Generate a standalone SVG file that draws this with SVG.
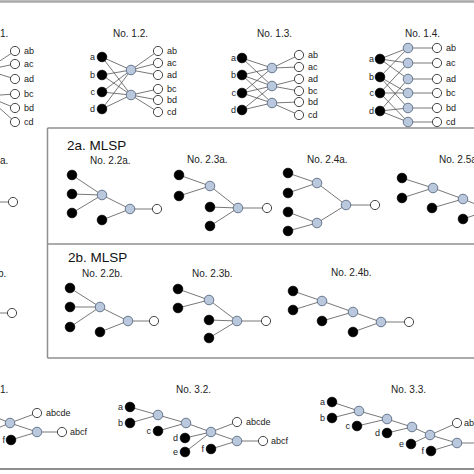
<svg xmlns="http://www.w3.org/2000/svg" width="474" height="474" viewBox="0 0 474 474">
<style>
.k{fill:#000;stroke:#000;stroke-width:0.8}
.b{fill:#b9c8dc;stroke:#5b6b82;stroke-width:0.9}
.w{fill:#fff;stroke:#333;stroke-width:0.9}
.e line,.e polyline{stroke:#555;stroke-width:0.8;fill:none}
.f{stroke:#8f8f8f;stroke-width:1.5;fill:none}
text{font-family:"Liberation Sans",Arial,sans-serif;fill:#222}
.t{font-size:10px}
.l{font-size:9px}
.le{font-size:9px;text-anchor:end}
.h{font-size:13.5px;fill:#111}
</style>
<rect width="474" height="474" fill="#fff"/>
<g id="frames">
<line class="f" x1="0" y1="1.5" x2="474" y2="1.5" style="stroke-width:2.5;stroke:#a8a8a8"/>
<line class="f" x1="47.5" y1="128" x2="474" y2="128"/>
<line class="f" x1="47.5" y1="128" x2="47.5" y2="358"/>
<line class="f" x1="47.5" y1="244" x2="474" y2="244"/>
<line class="f" x1="47.5" y1="358" x2="474" y2="358"/>
<line class="f" x1="0" y1="469" x2="474" y2="469" style="stroke-width:2"/>
</g>
<g id="titles">
<text class="t" x="0" y="37">1.</text>
<text class="t" x="113" y="37">No. 1.2.</text>
<text class="t" x="257" y="37">No. 1.3.</text>
<text class="t" x="405" y="37">No. 1.4.</text>
<text class="h" x="67" y="150">2a. MLSP</text>
<text class="t" x="0" y="164">a.</text>
<text class="t" x="90" y="164">No. 2.2a.</text>
<text class="t" x="187" y="163">No. 2.3a.</text>
<text class="t" x="307" y="163">No. 2.4a.</text>
<text class="t" x="439" y="163">No. 2.5a.</text>
<text class="h" x="68" y="262">2b. MLSP</text>
<text class="t" x="-2" y="277">b.</text>
<text class="t" x="82" y="277">No. 2.2b.</text>
<text class="t" x="192" y="277">No. 2.3b.</text>
<text class="t" x="331" y="276">No. 2.4b.</text>
<text class="t" x="0" y="393">1.</text>
<text class="t" x="176" y="393">No. 3.2.</text>
<text class="t" x="391" y="393">No. 3.3.</text>
</g>
<g id="connectors" class="e">
<line x1="-14" y1="70" x2="15" y2="51"/><line x1="-14" y1="70" x2="15" y2="64"/><line x1="-14" y1="70" x2="15" y2="79"/>
<line x1="-14" y1="96" x2="15" y2="94"/><line x1="-14" y1="96" x2="15" y2="108"/><line x1="-14" y1="96" x2="15" y2="122"/>
<line x1="102" y1="57" x2="131" y2="70"/><line x1="102" y1="57" x2="131" y2="95"/>
<line x1="102" y1="75" x2="131" y2="70"/><line x1="102" y1="75" x2="131" y2="95"/>
<line x1="102" y1="92" x2="131" y2="70"/><line x1="102" y1="92" x2="131" y2="95"/>
<line x1="102" y1="109" x2="131" y2="70"/><line x1="102" y1="109" x2="131" y2="95"/>
<line x1="131" y1="70" x2="158" y2="51"/><line x1="131" y1="70" x2="158" y2="63"/><line x1="131" y1="70" x2="158" y2="75"/>
<line x1="131" y1="95" x2="158" y2="89"/><line x1="131" y1="95" x2="158" y2="100"/><line x1="131" y1="95" x2="158" y2="112"/>
<line x1="242" y1="58" x2="272" y2="68"/><line x1="242" y1="58" x2="272" y2="86"/>
<line x1="242" y1="75" x2="272" y2="68"/><line x1="242" y1="75" x2="272" y2="86"/><line x1="242" y1="75" x2="272" y2="103"/>
<line x1="242" y1="93" x2="272" y2="68"/><line x1="242" y1="93" x2="272" y2="86"/><line x1="242" y1="93" x2="272" y2="103"/>
<line x1="242" y1="110" x2="272" y2="86"/><line x1="242" y1="110" x2="272" y2="103"/>
<line x1="272" y1="68" x2="299" y2="55"/><line x1="272" y1="68" x2="299" y2="67"/>
<line x1="272" y1="86" x2="299" y2="79"/><line x1="272" y1="86" x2="299" y2="91"/>
<line x1="272" y1="103" x2="299" y2="102"/><line x1="272" y1="103" x2="299" y2="115"/>
<line x1="380" y1="59" x2="408" y2="48"/><line x1="380" y1="77" x2="408" y2="48"/>
<line x1="380" y1="59" x2="408" y2="63"/><line x1="380" y1="93" x2="408" y2="63"/>
<line x1="380" y1="59" x2="408" y2="79"/><line x1="380" y1="111" x2="408" y2="79"/>
<line x1="380" y1="77" x2="408" y2="93"/><line x1="380" y1="93" x2="408" y2="93"/>
<line x1="380" y1="77" x2="408" y2="108"/><line x1="380" y1="111" x2="408" y2="108"/>
<line x1="380" y1="93" x2="408" y2="122"/><line x1="380" y1="111" x2="408" y2="122"/>
<line x1="408" y1="48" x2="437" y2="48"/><line x1="408" y1="63" x2="437" y2="63"/><line x1="408" y1="79" x2="437" y2="79"/>
<line x1="408" y1="93" x2="437" y2="93"/><line x1="408" y1="108" x2="437" y2="108"/><line x1="408" y1="122" x2="437" y2="122"/>
<line x1="0" y1="202" x2="13" y2="202"/>
<line x1="72" y1="175" x2="102" y2="195"/><line x1="72" y1="194" x2="102" y2="195"/><line x1="72" y1="213" x2="102" y2="195"/>
<line x1="102" y1="195" x2="130" y2="209"/><line x1="102" y1="220" x2="130" y2="209"/><line x1="130" y1="209" x2="157" y2="209"/>
<line x1="179" y1="175" x2="210" y2="186"/><line x1="179" y1="196" x2="210" y2="186"/>
<line x1="210" y1="186" x2="238" y2="208"/><line x1="210" y1="207" x2="238" y2="208"/><line x1="210" y1="226" x2="238" y2="208"/>
<line x1="238" y1="208" x2="267" y2="208"/>
<line x1="288" y1="173" x2="317" y2="183"/><line x1="288" y1="193" x2="317" y2="183"/>
<line x1="288" y1="212" x2="317" y2="223"/><line x1="288" y1="231" x2="317" y2="223"/>
<line x1="317" y1="183" x2="346" y2="205"/><line x1="317" y1="223" x2="346" y2="205"/><line x1="346" y1="205" x2="375" y2="205"/>
<line x1="402" y1="178" x2="433" y2="188"/><line x1="402" y1="198" x2="433" y2="188"/>
<line x1="433" y1="188" x2="463" y2="199"/><line x1="432" y1="208" x2="463" y2="199"/>
<line x1="463" y1="199" x2="490" y2="210"/><line x1="463" y1="219" x2="490" y2="210"/>
<line x1="0" y1="313" x2="12" y2="313"/>
<line x1="70" y1="288" x2="100" y2="307"/><line x1="70" y1="307" x2="100" y2="307"/><line x1="70" y1="327" x2="100" y2="307"/>
<line x1="100" y1="307" x2="128" y2="321"/><line x1="100" y1="332" x2="128" y2="321"/><line x1="128" y1="321" x2="154" y2="321"/>
<line x1="178" y1="289" x2="209" y2="300"/><line x1="178" y1="308" x2="209" y2="300"/>
<line x1="209" y1="300" x2="237" y2="321"/><line x1="209" y1="320" x2="237" y2="321"/><line x1="209" y1="338" x2="237" y2="321"/>
<line x1="237" y1="321" x2="266" y2="321"/>
<line x1="293" y1="291" x2="322" y2="301"/><line x1="293" y1="310" x2="322" y2="301"/>
<line x1="322" y1="301" x2="353" y2="312"/><line x1="322" y1="321" x2="353" y2="312"/>
<line x1="353" y1="312" x2="381" y2="322"/><line x1="353" y1="332" x2="381" y2="322"/>
<line x1="381" y1="322" x2="409" y2="322"/>
<line x1="-12" y1="414" x2="10" y2="423"/><line x1="-12" y1="432" x2="10" y2="423"/>
<line x1="10" y1="423" x2="37" y2="413"/><line x1="10" y1="423" x2="37" y2="432"/>
<line x1="11" y1="440" x2="37" y2="432"/><line x1="37" y1="432" x2="62" y2="432"/>
<line x1="130" y1="407" x2="158" y2="415"/><line x1="130" y1="423" x2="158" y2="415"/>
<line x1="158" y1="415" x2="186" y2="423"/><line x1="158" y1="431" x2="186" y2="423"/>
<line x1="186" y1="423" x2="211" y2="432"/><line x1="185" y1="438" x2="211" y2="432"/><line x1="185" y1="452" x2="211" y2="432"/>
<line x1="211" y1="432" x2="237" y2="422"/><line x1="211" y1="432" x2="237" y2="441"/>
<line x1="211" y1="449" x2="237" y2="441"/><line x1="237" y1="441" x2="263" y2="441"/>
<line x1="332" y1="402" x2="359" y2="411"/><line x1="332" y1="418" x2="359" y2="411"/>
<line x1="359" y1="411" x2="387" y2="419"/><line x1="357" y1="426" x2="387" y2="419"/>
<line x1="387" y1="419" x2="412" y2="427"/><line x1="387" y1="433" x2="412" y2="427"/>
<line x1="412" y1="427" x2="430" y2="435"/><line x1="411" y1="444" x2="430" y2="435"/>
<line x1="430" y1="435" x2="457" y2="423"/><line x1="430" y1="435" x2="457" y2="443"/>
<line x1="431" y1="451" x2="457" y2="443"/><line x1="457" y1="443" x2="480" y2="443"/>
</g>
<g id="d11">
<g id="n11ab"><circle class="w" cx="15" cy="51" r="4.6"/><text class="l" x="24" y="54">ab</text></g>
<g id="n11ac"><circle class="w" cx="15" cy="64" r="4.6"/><text class="l" x="24" y="67">ac</text></g>
<g id="n11ad"><circle class="w" cx="15" cy="79" r="4.6"/><text class="l" x="24" y="82">ad</text></g>
<g id="n11bc"><circle class="w" cx="15" cy="94" r="4.6"/><text class="l" x="24" y="97">bc</text></g>
<g id="n11bd"><circle class="w" cx="15" cy="108" r="4.6"/><text class="l" x="24" y="111">bd</text></g>
<g id="n11cd"><circle class="w" cx="15" cy="122" r="4.6"/><text class="l" x="24" y="125">cd</text></g>
</g>
<g id="d12">
<g id="n12a"><circle class="k" cx="102" cy="57" r="4.8"/><text class="le" x="95" y="60">a</text></g>
<g id="n12b"><circle class="k" cx="102" cy="75" r="4.8"/><text class="le" x="95" y="78">b</text></g>
<g id="n12c"><circle class="k" cx="102" cy="92" r="4.8"/><text class="le" x="95" y="95">c</text></g>
<g id="n12d"><circle class="k" cx="102" cy="109" r="4.8"/><text class="le" x="95" y="112">d</text></g>
<g id="n12h1"><circle class="b" cx="131" cy="70" r="4.8"/></g>
<g id="n12h2"><circle class="b" cx="131" cy="95" r="4.8"/></g>
<g id="n12ab"><circle class="w" cx="158" cy="51" r="4.6"/><text class="l" x="167" y="54">ab</text></g>
<g id="n12ac"><circle class="w" cx="158" cy="63" r="4.6"/><text class="l" x="167" y="66">ac</text></g>
<g id="n12ad"><circle class="w" cx="158" cy="75" r="4.6"/><text class="l" x="167" y="78">ad</text></g>
<g id="n12bc"><circle class="w" cx="158" cy="89" r="4.6"/><text class="l" x="167" y="92">bc</text></g>
<g id="n12bd"><circle class="w" cx="158" cy="100" r="4.6"/><text class="l" x="167" y="103">bd</text></g>
<g id="n12cd"><circle class="w" cx="158" cy="112" r="4.6"/><text class="l" x="167" y="115">cd</text></g>
</g>
<g id="d13">
<g id="n13a"><circle class="k" cx="242" cy="58" r="4.8"/><text class="le" x="236" y="61">a</text></g>
<g id="n13b"><circle class="k" cx="242" cy="75" r="4.8"/><text class="le" x="236" y="78">b</text></g>
<g id="n13c"><circle class="k" cx="242" cy="93" r="4.8"/><text class="le" x="236" y="96">c</text></g>
<g id="n13d"><circle class="k" cx="242" cy="110" r="4.8"/><text class="le" x="236" y="113">d</text></g>
<g id="n13h1"><circle class="b" cx="272" cy="68" r="4.8"/></g>
<g id="n13h2"><circle class="b" cx="272" cy="86" r="4.8"/></g>
<g id="n13h3"><circle class="b" cx="272" cy="103" r="4.8"/></g>
<g id="n13ab"><circle class="w" cx="299" cy="55" r="4.6"/><text class="l" x="308" y="58">ab</text></g>
<g id="n13ac"><circle class="w" cx="299" cy="67" r="4.6"/><text class="l" x="308" y="70">ac</text></g>
<g id="n13ad"><circle class="w" cx="299" cy="79" r="4.6"/><text class="l" x="308" y="82">ad</text></g>
<g id="n13bc"><circle class="w" cx="299" cy="91" r="4.6"/><text class="l" x="308" y="94">bc</text></g>
<g id="n13bd"><circle class="w" cx="299" cy="102" r="4.6"/><text class="l" x="308" y="105">bd</text></g>
<g id="n13cd"><circle class="w" cx="299" cy="115" r="4.6"/><text class="l" x="308" y="118">cd</text></g>
</g>
<g id="d14">
<g id="n14a"><circle class="k" cx="380" cy="59" r="4.8"/><text class="le" x="374" y="62">a</text></g>
<g id="n14b"><circle class="k" cx="380" cy="77" r="4.8"/><text class="le" x="374" y="80">b</text></g>
<g id="n14c"><circle class="k" cx="380" cy="93" r="4.8"/><text class="le" x="374" y="96">c</text></g>
<g id="n14d"><circle class="k" cx="380" cy="111" r="4.8"/><text class="le" x="374" y="114">d</text></g>
<g id="n14h1"><circle class="b" cx="408" cy="48" r="4.8"/></g>
<g id="n14h2"><circle class="b" cx="408" cy="63" r="4.8"/></g>
<g id="n14h3"><circle class="b" cx="408" cy="79" r="4.8"/></g>
<g id="n14h4"><circle class="b" cx="408" cy="93" r="4.8"/></g>
<g id="n14h5"><circle class="b" cx="408" cy="108" r="4.8"/></g>
<g id="n14h6"><circle class="b" cx="408" cy="122" r="4.8"/></g>
<g id="n14ab"><circle class="w" cx="437" cy="48" r="4.6"/><text class="l" x="446" y="51">ab</text></g>
<g id="n14ac"><circle class="w" cx="437" cy="63" r="4.6"/><text class="l" x="446" y="66">ac</text></g>
<g id="n14ad"><circle class="w" cx="437" cy="79" r="4.6"/><text class="l" x="446" y="82">ad</text></g>
<g id="n14bc"><circle class="w" cx="437" cy="93" r="4.6"/><text class="l" x="446" y="96">bc</text></g>
<g id="n14bd"><circle class="w" cx="437" cy="108" r="4.6"/><text class="l" x="446" y="111">bd</text></g>
<g id="n14cd"><circle class="w" cx="437" cy="122" r="4.6"/><text class="l" x="446" y="125">cd</text></g>
</g>
<g id="d21a"><g id="n21a_o"><circle class="w" cx="13" cy="202" r="4.6"/></g></g>
<g id="d22a">
<g id="n22a_1"><circle class="k" cx="72" cy="175" r="4.8"/></g>
<g id="n22a_2"><circle class="k" cx="72" cy="194" r="4.8"/></g>
<g id="n22a_3"><circle class="k" cx="72" cy="213" r="4.8"/></g>
<g id="n22a_4"><circle class="k" cx="102" cy="220" r="4.8"/></g>
<g id="n22a_h1"><circle class="b" cx="102" cy="195" r="4.8"/></g>
<g id="n22a_h2"><circle class="b" cx="130" cy="209" r="4.8"/></g>
<g id="n22a_o"><circle class="w" cx="157" cy="209" r="4.6"/></g>
</g>
<g id="d23a">
<g id="n23a_1"><circle class="k" cx="179" cy="175" r="4.8"/></g>
<g id="n23a_2"><circle class="k" cx="179" cy="196" r="4.8"/></g>
<g id="n23a_3"><circle class="k" cx="210" cy="207" r="4.8"/></g>
<g id="n23a_4"><circle class="k" cx="210" cy="226" r="4.8"/></g>
<g id="n23a_h1"><circle class="b" cx="210" cy="186" r="4.8"/></g>
<g id="n23a_h2"><circle class="b" cx="238" cy="208" r="4.8"/></g>
<g id="n23a_o"><circle class="w" cx="267" cy="208" r="4.6"/></g>
</g>
<g id="d24a">
<g id="n24a_1"><circle class="k" cx="288" cy="173" r="4.8"/></g>
<g id="n24a_2"><circle class="k" cx="288" cy="193" r="4.8"/></g>
<g id="n24a_3"><circle class="k" cx="288" cy="212" r="4.8"/></g>
<g id="n24a_4"><circle class="k" cx="288" cy="231" r="4.8"/></g>
<g id="n24a_h1"><circle class="b" cx="317" cy="183" r="4.8"/></g>
<g id="n24a_h2"><circle class="b" cx="317" cy="223" r="4.8"/></g>
<g id="n24a_h3"><circle class="b" cx="346" cy="205" r="4.8"/></g>
<g id="n24a_o"><circle class="w" cx="375" cy="205" r="4.6"/></g>
</g>
<g id="d25a">
<g id="n25a_1"><circle class="k" cx="402" cy="178" r="4.8"/></g>
<g id="n25a_2"><circle class="k" cx="402" cy="198" r="4.8"/></g>
<g id="n25a_3"><circle class="k" cx="432" cy="208" r="4.8"/></g>
<g id="n25a_4"><circle class="k" cx="463" cy="219" r="4.8"/></g>
<g id="n25a_h1"><circle class="b" cx="433" cy="188" r="4.8"/></g>
<g id="n25a_h2"><circle class="b" cx="463" cy="199" r="4.8"/></g>
</g>
<g id="d21b"><g id="n21b_o"><circle class="w" cx="12" cy="313" r="4.6"/></g></g>
<g id="d22b">
<g id="n22b_1"><circle class="k" cx="70" cy="288" r="4.8"/></g>
<g id="n22b_2"><circle class="k" cx="70" cy="307" r="4.8"/></g>
<g id="n22b_3"><circle class="k" cx="70" cy="327" r="4.8"/></g>
<g id="n22b_4"><circle class="k" cx="100" cy="332" r="4.8"/></g>
<g id="n22b_h1"><circle class="b" cx="100" cy="307" r="4.8"/></g>
<g id="n22b_h2"><circle class="b" cx="128" cy="321" r="4.8"/></g>
<g id="n22b_o"><circle class="w" cx="154" cy="321" r="4.6"/></g>
</g>
<g id="d23b">
<g id="n23b_1"><circle class="k" cx="178" cy="289" r="4.8"/></g>
<g id="n23b_2"><circle class="k" cx="178" cy="308" r="4.8"/></g>
<g id="n23b_3"><circle class="k" cx="209" cy="320" r="4.8"/></g>
<g id="n23b_4"><circle class="k" cx="209" cy="338" r="4.8"/></g>
<g id="n23b_h1"><circle class="b" cx="209" cy="300" r="4.8"/></g>
<g id="n23b_h2"><circle class="b" cx="237" cy="321" r="4.8"/></g>
<g id="n23b_o"><circle class="w" cx="266" cy="321" r="4.6"/></g>
</g>
<g id="d24b">
<g id="n24b_1"><circle class="k" cx="293" cy="291" r="4.8"/></g>
<g id="n24b_2"><circle class="k" cx="293" cy="310" r="4.8"/></g>
<g id="n24b_3"><circle class="k" cx="322" cy="321" r="4.8"/></g>
<g id="n24b_4"><circle class="k" cx="353" cy="332" r="4.8"/></g>
<g id="n24b_h1"><circle class="b" cx="322" cy="301" r="4.8"/></g>
<g id="n24b_h2"><circle class="b" cx="353" cy="312" r="4.8"/></g>
<g id="n24b_h3"><circle class="b" cx="381" cy="322" r="4.8"/></g>
<g id="n24b_o"><circle class="w" cx="409" cy="322" r="4.6"/></g>
</g>
<g id="d31">
<g id="n31_h1"><circle class="b" cx="10" cy="423" r="4.8"/></g>
<g id="n31_f"><circle class="k" cx="11" cy="440" r="4.8"/><text class="le" x="5" y="443">f</text></g>
<g id="n31_h2"><circle class="b" cx="37" cy="432" r="4.8"/></g>
<g id="n31_o1"><circle class="w" cx="37" cy="413" r="4.6"/><text class="l" x="46" y="416">abcde</text></g>
<g id="n31_o2"><circle class="w" cx="62" cy="432" r="4.6"/><text class="l" x="70" y="435">abcf</text></g>
</g>
<g id="d32">
<g id="n32_a"><circle class="k" cx="130" cy="407" r="4.8"/><text class="le" x="123" y="410">a</text></g>
<g id="n32_b"><circle class="k" cx="130" cy="423" r="4.8"/><text class="le" x="123" y="426">b</text></g>
<g id="n32_c"><circle class="k" cx="158" cy="431" r="4.8"/><text class="le" x="151" y="434">c</text></g>
<g id="n32_d"><circle class="k" cx="185" cy="438" r="4.8"/><text class="le" x="178" y="441">d</text></g>
<g id="n32_e"><circle class="k" cx="185" cy="452" r="4.8"/><text class="le" x="178" y="455">e</text></g>
<g id="n32_f"><circle class="k" cx="211" cy="449" r="4.8"/><text class="le" x="204" y="452">f</text></g>
<g id="n32_h1"><circle class="b" cx="158" cy="415" r="4.8"/></g>
<g id="n32_h2"><circle class="b" cx="186" cy="423" r="4.8"/></g>
<g id="n32_h3"><circle class="b" cx="211" cy="432" r="4.8"/></g>
<g id="n32_h4"><circle class="b" cx="237" cy="441" r="4.8"/></g>
<g id="n32_o1"><circle class="w" cx="237" cy="422" r="4.6"/><text class="l" x="246" y="425">abcde</text></g>
<g id="n32_o2"><circle class="w" cx="263" cy="441" r="4.6"/><text class="l" x="271" y="444">abcf</text></g>
</g>
<g id="d33">
<g id="n33_a"><circle class="k" cx="332" cy="402" r="4.8"/><text class="le" x="325" y="405">a</text></g>
<g id="n33_b"><circle class="k" cx="332" cy="418" r="4.8"/><text class="le" x="325" y="421">b</text></g>
<g id="n33_c"><circle class="k" cx="357" cy="426" r="4.8"/><text class="le" x="350" y="429">c</text></g>
<g id="n33_d"><circle class="k" cx="387" cy="433" r="4.8"/><text class="le" x="380" y="436">d</text></g>
<g id="n33_e"><circle class="k" cx="411" cy="444" r="4.8"/><text class="le" x="404" y="447">e</text></g>
<g id="n33_f"><circle class="k" cx="431" cy="451" r="4.8"/><text class="le" x="424" y="454">f</text></g>
<g id="n33_h1"><circle class="b" cx="359" cy="411" r="4.8"/></g>
<g id="n33_h2"><circle class="b" cx="387" cy="419" r="4.8"/></g>
<g id="n33_h3"><circle class="b" cx="412" cy="427" r="4.8"/></g>
<g id="n33_h4"><circle class="b" cx="430" cy="435" r="4.8"/></g>
<g id="n33_h5"><circle class="b" cx="457" cy="443" r="4.8"/></g>
<g id="n33_o1"><circle class="w" cx="457" cy="423" r="4.6"/><text class="l" x="464" y="426">ab</text></g>
</g>
</svg>
